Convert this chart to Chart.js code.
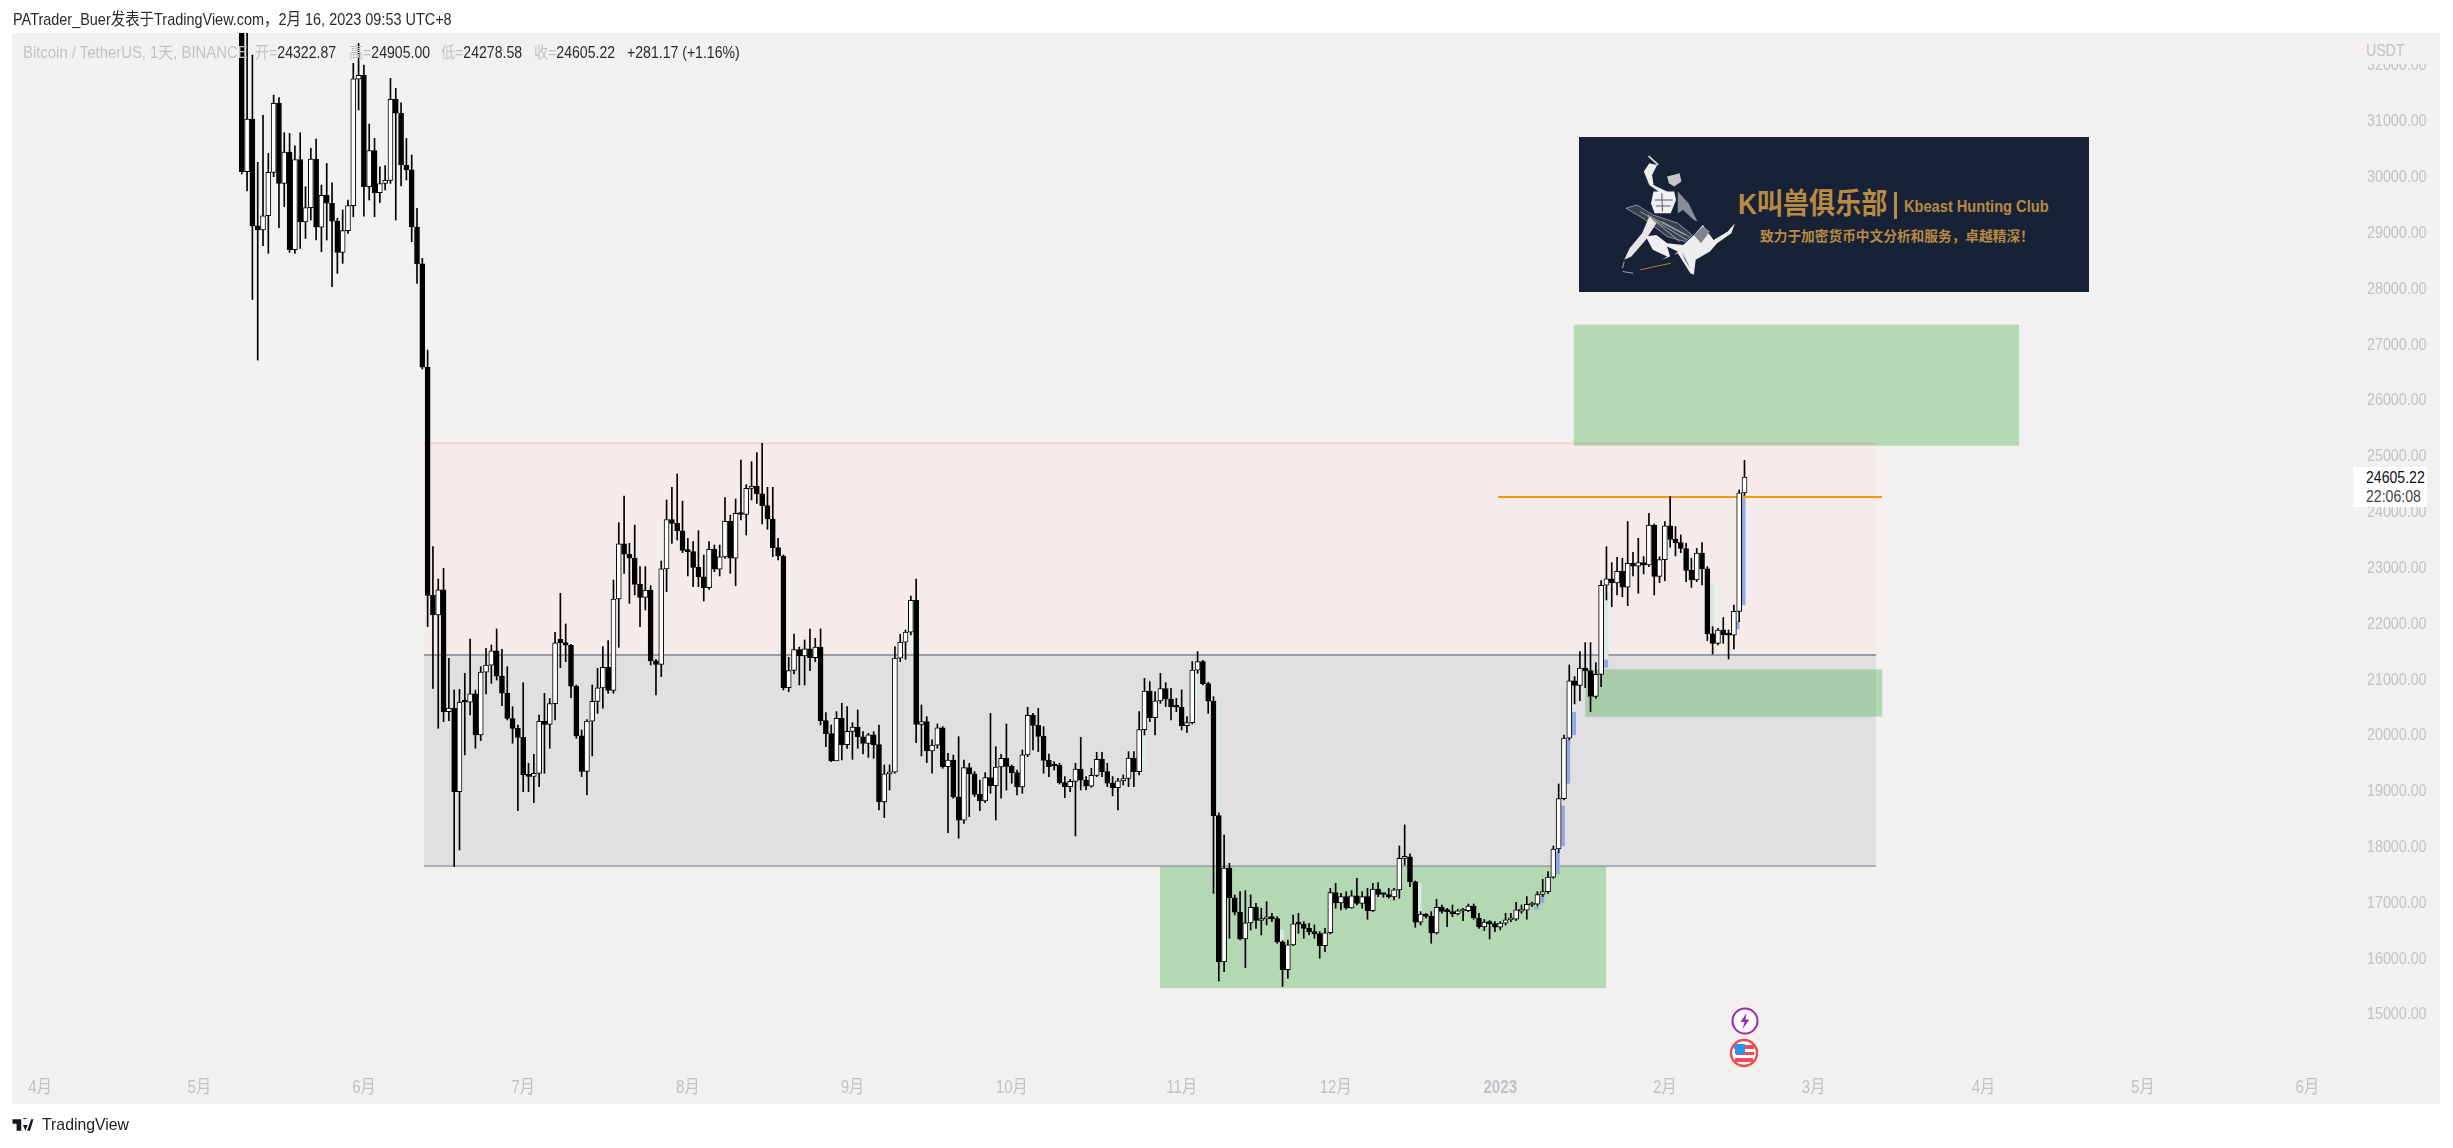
<!DOCTYPE html>
<html>
<head>
<meta charset="utf-8">
<title>BTCUSDT 1D</title>
<script src="https://cdn.jsdelivr.net/npm/chart.js@4/dist/chart.umd.min.js"></script>
<style>
html,body{margin:0;padding:0;background:#fff;width:2453px;height:1148px;overflow:hidden}
body{position:relative;font-family:"Liberation Sans","Noto Sans CJK SC",sans-serif}
#plotBg{position:absolute;left:12px;top:33px;width:2428px;height:1071px;background:#f2f1f0}
#myChart{position:absolute;left:0;top:0}
.txt{position:absolute;white-space:nowrap;transform-origin:left center;line-height:20px}
.grau{color:#c1c1c9}
.dunkel{color:#2a2a2a}
#coverTop{position:absolute;left:2358px;top:34px;width:80px;height:30px;background:#f2f1f0}
#lastPrice{position:absolute;left:2353px;top:467px;width:74px;height:40px;background:#fff}
#logo{position:absolute;left:1579px;top:137px;width:510px;height:155px;background:#182236}
.gold{color:#b98a43;font-weight:bold}
svg{position:absolute}
</style>
</head>
<body>
<div id="plotBg"></div>
<canvas id="myChart" width="2453" height="1148"></canvas>

<div class="txt dunkel" style="left:13px;top:10px;font-size:17px;transform:scaleX(.85)">PATrader_Buer发表于TradingView.com，2月 16, 2023 09:53 UTC+8</div>
<div class="txt grau" style="left:23px;top:43px;font-size:16px;transform:scaleX(.93)">Bitcoin / TetherUS, 1天, BINANCE</div>
<div class="txt" style="left:255px;top:43px;font-size:16px;transform:scaleX(.88)"><span class="grau">开=</span><span class="dunkel">24322.87</span></div>
<div class="txt" style="left:349px;top:43px;font-size:16px;transform:scaleX(.88)"><span class="grau">高=</span><span class="dunkel">24905.00</span></div>
<div class="txt" style="left:441px;top:43px;font-size:16px;transform:scaleX(.88)"><span class="grau">低=</span><span class="dunkel">24278.58</span></div>
<div class="txt" style="left:534px;top:43px;font-size:16px;transform:scaleX(.88)"><span class="grau">收=</span><span class="dunkel">24605.22</span></div>
<div class="txt dunkel" style="left:627px;top:43px;font-size:16px;transform:scaleX(.88)">+281.17 (+1.16%)</div>

<div id="coverTop"></div>
<div class="txt grau" style="left:2366px;top:41px;font-size:16px;transform:scaleX(.88)">USDT</div>

<div id="lastPrice"></div>
<div class="txt" style="left:2366px;top:468px;font-size:16px;color:#111;transform:scaleX(.88)">24605.22</div>
<div class="txt" style="left:2366px;top:487px;font-size:16px;color:#444;transform:scaleX(.88)">22:06:08</div>

<div id="logo">
  <svg style="left:42px;top:18px;overflow:visible" width="116" height="122" viewBox="0 0 116 122">
    <g transform="translate(-61,-35) scale(.357,.333)">
      <path d="M248 108 L275 135" stroke="#d8d8da" stroke-width="5" fill="none"/>
      <path d="M235 155 L250 130 L272 135 L258 165 L262 195 L300 215 L290 225 L250 195 Z" fill="#eeeeef"/>
      <path d="M300 170 L335 160 L340 185 L320 200 L305 190 Z" fill="#c4c6cc"/>
      <path d="M262 215 L320 215 L325 240 L310 280 L265 280 L255 250 Z" fill="#f1f1f2"/>
      <path d="M285 220 L287 275 M265 240 L315 240 M268 258 L310 258" stroke="#5a5f6c" stroke-width="3" fill="none"/>
      <path d="M330 215 L360 250 L385 305 L375 300 L345 270 L330 280 Z" fill="#888d99"/>
      <path d="M185 265 L215 255 L260 285 L330 310 L370 345 L350 365 L300 350 L240 300 Z" fill="#39404f" stroke="#b9bcc4" stroke-width="2"/>
      <path d="M225 275 L355 360 M245 285 L350 345 M262 300 L335 365 M285 305 L362 350" stroke="#aeb2bb" stroke-width="2.5" fill="none"/>
      <path d="M250 290 L230 340 L195 385 L180 420 L200 410 L240 360 L270 310 Z" fill="#e6e6e8"/>
      <path d="M240 350 L260 390 L300 410 L285 420 L330 400 L365 460 L375 465 L380 420 L420 395 L440 370 L480 340 L490 310 L470 335 L430 360 L400 315 L375 345 L345 375 L300 370 L270 345 Z" fill="#eeeeef"/>
      <path d="M375 345 L400 320 L420 335 L395 370 Z" fill="#7f8490"/>
      <path d="M300 380 L330 395 L310 415 Z M340 395 L365 445 L350 420 Z" fill="#182236"/>
      <path d="M225 450 L310 430" stroke="#a3803f" stroke-width="3" fill="none"/>
      <path d="M175 455 L205 460 M180 425 L175 445" stroke="#9ea2ac" stroke-width="3" fill="none"/>
    </g>
  </svg>
  <div class="txt gold" style="left:159px;top:50px;font-size:29px;line-height:34px;transform:scaleX(.9)">K叫兽俱乐部</div>
  <div style="position:absolute;left:315px;top:55px;width:3px;height:27px;background:#b98a43"></div>
  <div class="txt gold" style="left:325px;top:59px;font-size:17px;line-height:22px;transform:scaleX(.86)">Kbeast Hunting Club</div>
  <div class="txt gold" style="left:181px;top:91px;font-size:13.7px;line-height:18px">致力于加密货币中文分析和服务，卓越精深！</div>
</div>

<svg style="left:1730px;top:1006px" width="30" height="30" viewBox="0 0 30 30">
  <circle cx="15" cy="15" r="12.5" fill="#fff" stroke="#9c27b0" stroke-width="2"/>
  <path d="M16.5 7 L10.5 16 L14.5 16 L12.5 23 L19.5 13.5 L15.5 13.5 Z" fill="#9c27b0"/>
</svg>
<svg style="left:1729px;top:1038px" width="30" height="30" viewBox="0 0 30 30">
  <circle cx="15" cy="15" r="13" fill="#fff" stroke="#f04a55" stroke-width="2.4"/>
  <rect x="5" y="7" width="20" height="4" fill="#f04a55"/>
  <rect x="7" y="14" width="18" height="3" fill="#f04a55"/>
  <rect x="6" y="20" width="18" height="4" fill="#f04a55"/>
  <rect x="6" y="6" width="10" height="10" fill="#2196f3"/>
</svg>

<svg style="left:12px;top:1118px" width="22" height="14" viewBox="0 0 36 24">
  <path d="M0 2 H15 V22 H7 V10 H0 Z M21 2 a4.5 4.5 0 1 1 0.01 0 Z" fill="#131722"/>
  <path d="M25 22 L32 2 H36 L30 22 Z M18 12 h8 l-4 10z" fill="#131722"/>
</svg>
<div class="txt" style="left:42px;top:1115px;font-size:17px;color:#222;transform:scaleX(.93)">TradingView</div>

<script>
//Kerzen: Tag 38 = 9.5.2022 (Tag 0 ist der 1.4.2022), letzte Kerze 16.2.2023
const firstDay = 38;

const opens = [
  34038,30074,31017,29103,29030,29285,30063,31300,29866,30425,
  28680,30293,29175,29431,30300,29080,29650,29510,29190,28630,
  29020,29468,31734,31801,29805,30452,29700,29864,29919,31373,
  31125,30194,30110,29084,28424,26575,22487,22136,22583,20401,
  20468,18971,20574,20573,20723,19987,21110,21237,21491,21038,
  20736,20280,20104,19942,19269,19243,19297,20231,20175,20548,
  21700,21640,21592,20860,19970,19331,20234,20588,20830,21195,
  20785,22420,23407,23223,23152,22684,22451,22579,21311,21250,
  22960,23845,23774,23643,23293,23268,22987,22818,22622,23312,
  22954,23175,23810,23150,23955,23935,24403,24442,24305,24094,
  23854,23342,23191,20834,21140,21515,21399,21529,21368,21559,
  20241,20010,19520,20285,19813,20050,20127,19953,19832,19986,
  19812,18786,19289,19320,21361,21649,21826,22395,20173,20226,
  19701,19803,20113,19416,19537,18875,18461,19402,19289,18921,
  18803,19223,19079,19412,19568,19423,19310,19056,19629,20337,
  20158,19960,19530,19445,19442,19131,19060,19155,19375,19176,
  19068,19262,19549,19330,19123,19041,19164,19205,19570,19330,
  20080,20772,20295,20595,20818,20627,20490,20482,20151,20207,
  21148,21299,20905,20590,18540,15922,17602,17070,16813,16330,
  16619,16900,16662,16692,16700,16695,16280,15781,16226,16603,
  16598,16522,16458,16428,16212,16442,17163,16978,17092,16885,
  17105,16966,17090,16836,17224,17128,17127,17085,17210,17775,
  17803,17356,16632,16777,16737,16438,16898,16824,16821,16778,
  16832,16840,16919,16706,16548,16633,16607,16542,16616,16672,
  16685,16830,16845,16940,16955,17127,17178,17440,17943,18846,
  19930,20954,20871,21185,21132,20677,21071,22667,22783,22707,
  22916,22633,23061,23009,23074,23031,23743,22827,23125,23733,
  23488,23431,23326,22932,22762,23242,22961,21796,21625,21862,
  21782,21773,22199,24322.87
];
const closes = [
  30074,31017,29103,29030,29284,30063,31300,29866,30425,28680,
  30293,29175,29431,30300,29080,29650,29510,29190,28630,29020,
  29468,31740,31801,29805,30452,29700,29864,29919,31373,31125,
  30194,30110,29084,28424,26575,22487,22136,22583,20401,20468,
  18971,20574,20573,20723,19987,21110,21237,21491,21038,20736,
  20280,20104,19942,19269,19243,19297,20231,20175,20548,21637,
  21640,21592,20860,19970,19331,20234,20588,20830,21195,20785,
  22420,23407,23223,23152,22684,22451,22579,21311,21250,22960,
  23845,23774,23643,23293,23268,22987,22818,22622,23312,22954,
  23175,23810,23150,23955,23935,24403,24442,24305,24094,23854,
  23342,23191,20834,21140,21515,21399,21529,21368,21559,20241,
  20010,19520,20285,19813,20050,20127,19953,19832,19986,19812,
  18786,19289,19320,21361,21649,21826,22395,20173,20226,19701,
  19803,20113,19416,19537,18875,18461,19402,19289,18921,18803,
  19223,19079,19412,19568,19423,19310,19056,19629,20337,20158,
  19960,19530,19416,19430,19131,19060,19155,19375,19176,19068,
  19262,19549,19330,19123,19041,19164,19205,19570,19330,20080,
  20772,20295,20595,20818,20627,20490,20482,20151,20207,21148,
  21299,20905,20590,18540,15922,17602,17070,16813,16330,16619,
  16900,16662,16692,16700,16695,16280,15781,16226,16603,16598,
  16522,16458,16428,16212,16442,17163,16978,17092,16885,17105,
  16966,17090,16836,17224,17128,17127,17085,17210,17775,17803,
  17356,16632,16777,16737,16438,16898,16824,16821,16778,16836,
  16840,16919,16706,16548,16633,16607,16542,16616,16672,16685,
  16851,16845,16950,16955,17127,17178,17440,17943,18846,19930,
  20954,20871,21185,21132,20677,21071,22667,22783,22707,22916,
  22633,23061,23009,23074,23031,23743,22827,23125,23733,23488,
  23431,23326,22932,22762,23242,22961,21796,21625,21862,21782,
  21773,22199,24322.87,24605.22
];
const highs = [
  34243,32658,32162,30243,31083,30403,31447,31400,30773,30761,
  30540,30773,29806,30492,30659,29836,30224,29877,29239,29388,
  29567,32015,32373,31985,30928,30671,30164,30182,31746,31567,
  31310,30671,30373,29418,28522,26880,23358,22779,22970,21358,
  20791,20803,21090,21704,20790,21209,21537,21597,21884,21519,
  21209,20493,20164,20922,19478,19639,20343,20731,20642,21824,
  22522,21973,21610,20880,20075,20260,20881,21179,21567,21675,
  22761,23788,24266,23418,23746,23000,23000,22660,21340,23101,
  24194,24421,24660,24176,23507,23448,23645,23209,23448,23388,
  23388,24236,23925,24212,24910,24470,24880,25042,25209,24421,
  24421,23507,23210,21376,21794,21560,21687,21884,21716,21884,
  20385,20164,20403,20552,20493,20206,20433,20045,20015,20045,
  20164,19448,19448,21567,21788,21866,22475,22779,20522,20313,
  19896,20182,20135,19657,19627,19955,19537,19478,19329,19179,
  19311,20373,19776,19640,20182,19448,19358,19716,20481,20373,
  20463,20134,19645,19507,19478,19239,19191,19478,19943,19239,
  19388,19675,19675,19478,19239,19209,19269,19687,19687,20403,
  21000,20940,20761,21090,20922,20821,20642,20791,20313,21299,
  21478,21320,20930,20672,18590,18194,17687,17119,17179,17197,
  17119,16970,16881,17000,16791,16730,16300,16313,16761,16791,
  16642,16612,16582,16463,16522,17239,17328,17149,17179,17197,
  17418,17179,17239,17328,17340,17149,17239,17239,17997,18373,
  17854,17370,16821,16791,16821,17042,16940,16881,16940,16863,
  16881,16958,16958,16791,16680,16660,16642,16642,16791,16791,
  16988,16940,17090,16990,17179,17400,17537,17997,19107,19985,
  21239,21030,21478,21639,21639,21280,22750,23359,23072,23168,
  23150,23806,23257,23508,23180,23956,23765,23180,23806,24254,
  23717,23568,23418,23150,23329,23430,23000,21926,21896,22087,
  21866,22314,24374,24905
];
const lows = [
  30033,29730,27785,26700,28751,28612,29985,29071,29448,28630,
  28612,28701,28880,29209,28851,28642,28851,28015,28254,28433,
  28970,29268,31179,29280,29567,29268,29519,29746,29865,29209,
  29818,29925,28821,28075,26540,21925,20821,20105,20224,20242,
  17627,17925,19627,20343,19746,19884,20719,20910,20970,20510,
  20254,19836,18630,18970,18970,18773,19060,19299,19746,20254,
  21191,21299,20654,19925,19239,18911,19609,20373,20463,20731,
  20731,21555,22881,22343,22493,21925,22224,21239,20702,21030,
  22552,23418,23478,23251,22833,22642,22642,22385,22594,22910,
  22833,23149,22881,22660,23836,23567,24194,24134,23764,23669,
  23179,23119,20791,20761,21078,20881,20881,21137,21299,20164,
  19776,19508,19537,19537,19746,19549,19746,19645,19585,19567,
  18642,18505,19000,19299,21299,21340,21776,19848,19609,19490,
  19299,19746,19388,18236,18851,18134,18403,18523,18881,18630,
  18773,18940,18463,18851,19000,19120,18911,18940,19597,19716,
  19687,19299,19239,19358,19107,18863,18970,18176,19000,19000,
  19048,19239,19239,19060,18893,18642,19090,19060,19060,19269,
  19985,20224,19985,20552,20493,20254,20403,20075,20033,20182,
  21090,20881,20373,17149,15579,15746,16343,16761,16313,15818,
  16493,16522,16403,16582,16642,16254,15478,15627,16212,16433,
  16343,16403,16343,15985,16104,16421,16881,16851,16863,16881,
  16940,16881,16684,16821,17090,17078,17060,17030,17060,17657,
  17269,16541,16582,16702,16254,16421,16791,16552,16731,16761,
  16660,16821,16684,16522,16481,16331,16463,16493,16582,16642,
  16660,16791,16684,16910,16922,17090,17149,17418,17878,18821,
  19896,20541,20600,20833,20404,20642,20851,22403,22284,22493,
  22463,22302,22833,22523,22869,23000,22493,22714,22750,23347,
  23192,23251,22732,22630,22732,22672,21675,21436,21598,21627,
  21347,21526,22015,24278.58
];

//Zonen: [von Tag, bis Tag, unten, oben]
const pinkZone = [72.3, 345.8, 21418, 25209];
const greyZone = [72.3, 345.8, 17639, 21418];
const greenBottom = [210.9, 295, 15449, 17639];
const greenSmall = [291, 347, 20313, 21162];
const greenTop = [288.8, 372.7, 25166, 27335];
const orangeLine = [274.6, 346.9, 24248];

//Lücken neben den Kerzen: [Tag, unten, oben]
const blueGaps = [
  [287.7,19120,19896],[286.7,17997,18714],[285.75,17496,17877],[288.8,19985,20403],
  [294.85,21197,21341],[320.7,22313,24284],[319.6,21884,22015],[282.8,16982,17089],[281.8,16864,16899]
];
const paleGaps = [
  [294.9,21341,22523],[288.8,20403,20553],[314.8,21776,22702],[306.6,23299,23478],
  [310.7,22940,23209],[221.6,18552,20553],[207.8,19418,20044],[217.9,20612,21090],
  [259.7,16731,17329],[233.7,16260,16493]
];

const priceTicks = [15000,16000,17000,18000,19000,20000,21000,22000,23000,24000,25000,26000,27000,28000,29000,30000,31000,32000];
const monthDays = [0,30,61,91,122,153,183,215,244,275,306,334,366,396,427];
const monthLabels = ['4月','5月','6月','7月','8月','9月','10月','11月','12月','2023','2月','3月','4月','5月','6月'];

const candleBodies = opens.map((o, i) => ({x: firstDay + i, y: [o, closes[i]]}));
const candleWicks = lows.map((l, i) => ({x: firstDay + i, y: [l, highs[i]]}));

function zoneSet(z, fillCol, lineCol, w, ord) {
  return {
    type: 'line',
    data: [{x: z[0], y: z[3]}, {x: z[1], y: z[3]}],
    fill: {value: z[2]},
    backgroundColor: fillCol,
    borderColor: lineCol,
    borderWidth: w,
    pointRadius: 0,
    order: ord
  };
}
function gapSet(list, col) {
  return {
    data: list.map(g => ({x: g[0], y: [g[1], g[2]]})),
    backgroundColor: col,
    barThickness: 4.3,
    order: 7
  };
}

const ctx = document.getElementById('myChart').getContext('2d');

//Die Schrift im Referenzbild ist schmaler gestaucht, deshalb fillText in x-Richtung skalieren
const plainFillText = ctx.fillText.bind(ctx);
ctx.fillText = (t, x, y) => {
  ctx.save();
  ctx.translate(x, y + 1.5);
  ctx.scale(0.84, 1);
  plainFillText(t, 0, 0);
  ctx.restore();
};

const myChart = new Chart(ctx, {
  type: 'bar',
  data: {
    datasets: [
      zoneSet(pinkZone, '#f4ebea', '#f8cfd2', 2, 13),
      zoneSet(greyZone, '#e0dfe2', '#9b9ba3', 2, 12),
      {
        type: 'line',
        data: [{x: greyZone[0], y: greyZone[2]}, {x: greyZone[1], y: greyZone[2]}],
        borderColor: '#b2b1b9',
        borderWidth: 2,
        pointRadius: 0,
        order: 11
      },
      zoneSet(greenBottom, 'rgba(76,175,80,.38)', 'rgba(0,0,0,0)', 0, 10),
      zoneSet(greenSmall, 'rgba(76,175,80,.38)', 'rgba(0,0,0,0)', 0, 10),
      zoneSet(greenTop, 'rgba(76,175,80,.38)', 'rgba(0,0,0,0)', 0, 10),
      gapSet(paleGaps, '#dbe8e6'),
      gapSet(blueGaps, '#92a6e8'),
      {
        type: 'line',
        data: [{x: orangeLine[0], y: orangeLine[2]}, {x: orangeLine[1], y: orangeLine[2]}],
        borderColor: '#ff9800',
        borderWidth: 2,
        pointRadius: 0,
        order: 6
      },
      {
        data: candleWicks,
        backgroundColor: '#000',
        barThickness: 1,
        order: 3
      },
      {
        data: candleBodies,
        backgroundColor: c => closes[c.dataIndex] >= opens[c.dataIndex] ? '#fff' : '#000',
        borderColor: '#000',
        borderWidth: 1,
        borderSkipped: false,
        barThickness: 5,
        minBarLength: 2,
        order: 2
      }
    ]
  },
  options: {
    responsive: false,
    animation: false,
    events: [],
    layout: {padding: {left: 12, top: 33, right: 13, bottom: 44}},
    datasets: {bar: {grouped: false}},
    scales: {
      x: {
        type: 'linear',
        offset: false,
        min: -5.273,
        max: 435.03,
        grid: {display: false, drawTicks: false},
        border: {display: false},
        afterBuildTicks: s => { s.ticks = monthDays.map(v => ({value: v})); },
        afterFit: s => { s.height = 34; },
        ticks: {
          autoSkip: false,
          maxRotation: 0,
          padding: 6,
          color: '#c1c1c9',
          font: c => ({family: '"Liberation Sans","Noto Sans CJK SC"', size: 18, weight: c.index === 9 ? 'bold' : 'normal'}),
          callback: (v, i) => monthLabels[i]
        }
      },
      y: {
        position: 'right',
        min: 13984,
        max: 32559,
        grid: {display: false, drawTicks: false},
        border: {display: false},
        afterBuildTicks: s => { s.ticks = priceTicks.map(v => ({value: v})); },
        afterFit: s => { s.width = 90; },
        ticks: {
          padding: 17,
          color: '#c1c1c9',
          font: {family: '"Liberation Sans"', size: 17},
          callback: v => v.toFixed(2)
        }
      }
    },
    plugins: {
      legend: {display: false},
      tooltip: {enabled: false}
    }
  }
});
</script>
</body>
</html>
